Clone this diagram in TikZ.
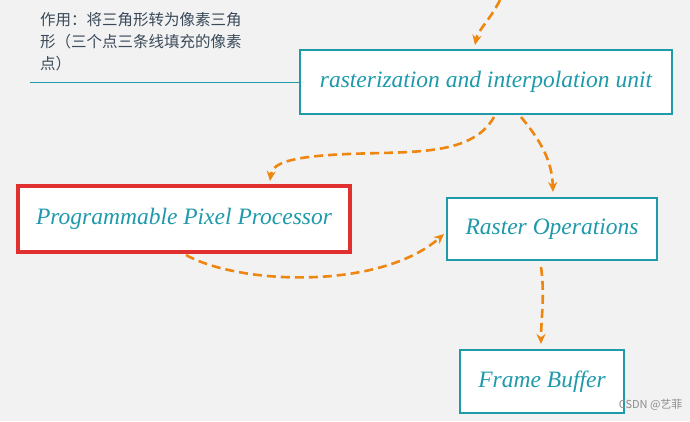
\documentclass[tikz,border=0pt]{standalone}
\usepackage{fontspec}
\setmainfont{Liberation Serif}
\newfontfamily\cjk{Noto Sans CJK SC}
\usetikzlibrary{arrows.meta}
\definecolor{teal1}{HTML}{1E9AAA}
\definecolor{org}{HTML}{EE8610}
\definecolor{bg}{HTML}{F2F2F2}
\definecolor{redb}{HTML}{E03030}
\definecolor{note}{HTML}{3A4A5A}
\begin{document}
\begin{tikzpicture}[x=1pt,y=-1pt,
 box/.style={draw=teal1,line width=1.2pt,fill=white,text=teal1,font=\itshape\fontsize{23.5}{26}\selectfont,inner sep=0pt},
 arr/.style={draw=org,line width=2.6pt,dash pattern=on 9pt off 5pt,-{Stealth[length=10pt,width=9pt]}}]
\fill[bg] (0,0) rectangle (690,421);
\useasboundingbox (0,0) rectangle (690,421);
\node[box,minimum width=372,minimum height=64] (ru) at (486,82) {rasterization and interpolation unit};
\node[box,draw=redb,line width=3.5pt,minimum width=332,minimum height=66] (pp) at (184,219) {Programmable Pixel Processor};
\node[box,minimum width=210,minimum height=62] (ro) at (552,229) {Raster Operations};
\node[box,minimum width=164,minimum height=63] (fb) at (542,381.5) {Frame Buffer};
\node[anchor=north west,align=left,text=note,font=\cjk\fontsize{15.5}{22}\selectfont,inner sep=0pt] (note) at (40,12) {作用：将三角形转为像素三角\\形（三个点三条线填充的像素\\点）};
\coordinate (ls) at (30,82);
\draw[teal1,line width=1pt] (ls) -- (ru.west);
\coordinate (top) at (500,0);
\draw[arr] (top) .. controls (490,20) and (478,30) .. (475,45);
\draw[arr] (494,117) .. controls (470,160) and (400,150) .. (330,155) .. controls (285,158) and (272,165) .. (270,181);
\draw[arr] (521,117) .. controls (540,140) and (552,160) .. (553,192);
\draw[arr] (186,255) .. controls (240,285) and (380,290) .. (444,234);
\draw[arr] (541,267) .. controls (545,295) and (541,320) .. (541,344);
\node[anchor=south east,text=black!45,font=\cjk\fontsize{11}{12}\selectfont] (wm) at (686,414) {CSDN @艺菲};
\end{tikzpicture}
\end{document}
